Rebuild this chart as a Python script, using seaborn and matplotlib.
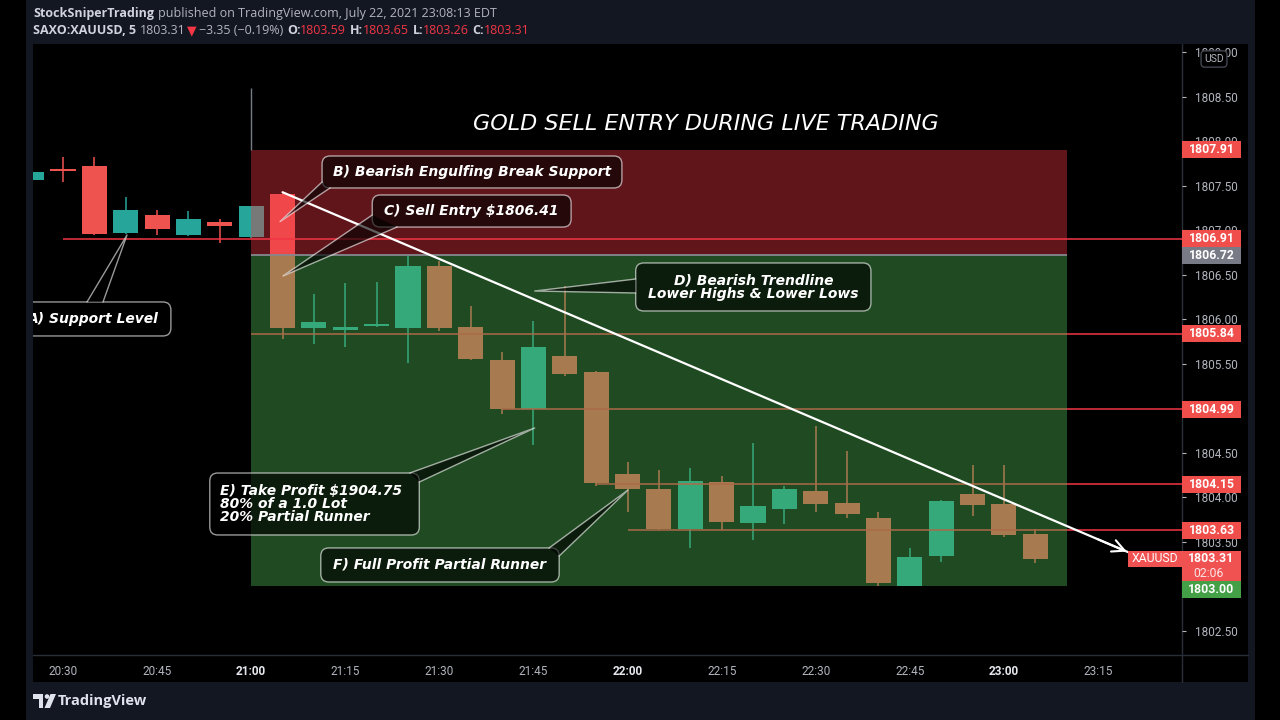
import matplotlib
matplotlib.use("Agg")
import matplotlib.pyplot as plt
import seaborn as sns
import numpy as np
import pandas as pd
from matplotlib.patches import Rectangle, FancyBboxPatch, Polygon, Circle
from matplotlib.lines import Line2D
from matplotlib.transforms import IdentityTransform, blended_transform_factory

# ---------------- data ----------------
times = ["20:25", "20:30", "20:35", "20:40", "20:45", "20:50", "20:55", "21:00",
         "21:05", "21:10", "21:15", "21:20", "21:25", "21:30", "21:35", "21:40",
         "21:45", "21:50", "21:55", "22:00", "22:05", "22:10", "22:15", "22:20",
         "22:25", "22:30", "22:35", "22:40", "22:45", "22:50", "22:55", "23:00", "23:05"]
opens = [1807.57, 1807.69, 1807.73, 1806.97, 1807.17, 1806.95, 1807.09, 1806.93,
         1807.41, 1805.90, 1805.88, 1805.93, 1805.91, 1806.60, 1805.92, 1805.54,
         1804.99, 1805.59, 1805.41, 1804.26, 1804.10, 1803.65, 1804.17, 1803.71,
         1803.87, 1804.07, 1803.94, 1803.77, 1803.01, 1803.34, 1804.04, 1803.93, 1803.59]
highs = [1807.70, 1807.83, 1807.83, 1807.38, 1807.23, 1807.22, 1807.13, 1807.28,
         1807.43, 1806.29, 1806.41, 1806.42, 1806.71, 1806.66, 1806.15, 1805.64,
         1805.98, 1806.38, 1805.42, 1804.40, 1804.31, 1804.33, 1804.24, 1804.61,
         1804.13, 1804.80, 1804.52, 1803.84, 1803.43, 1803.97, 1804.37, 1804.37, 1803.65]
lows = [1807.55, 1807.54, 1806.95, 1806.96, 1806.95, 1806.94, 1806.86, 1806.92,
        1805.78, 1805.72, 1805.69, 1805.92, 1805.51, 1805.87, 1805.54, 1804.94,
        1804.59, 1805.36, 1804.13, 1803.84, 1803.64, 1803.43, 1803.63, 1803.52,
        1803.70, 1803.84, 1803.77, 1803.01, 1803.00, 1803.27, 1803.79, 1803.56, 1803.26]
closes = [1807.66, 1807.67, 1806.96, 1807.23, 1807.02, 1807.13, 1807.05, 1807.28,
          1805.90, 1805.97, 1805.92, 1805.95, 1806.60, 1805.91, 1805.56, 1804.99,
          1805.69, 1805.39, 1804.16, 1804.10, 1803.65, 1804.19, 1803.72, 1803.90,
          1804.10, 1803.93, 1803.82, 1803.04, 1803.33, 1803.96, 1803.92, 1803.58, 1803.31]

time_ticks = ["20:30", "20:45", "21:00", "21:15", "21:30", "21:45",
              "22:00", "22:15", "22:30", "22:45", "23:00", "23:15"]
hour_ticks = ["21:00", "22:00", "23:00"]
price_ticks = [1802.5, 1803.0, 1803.5, 1804.0, 1804.5, 1805.0, 1805.5,
               1806.0, 1806.5, 1807.0, 1807.5, 1808.0, 1808.5, 1809.0]
hidden_ticks = [1803.0, 1805.0]   # fully covered by price tags in the reference

level_prices = [1806.91, 1805.84, 1804.99, 1804.15, 1803.63]
level_starts = ["20:30", "21:00", "21:40", "21:55", "22:00"]

zone_start, zone_end = "21:00", "23:10"
stop_price, entry_price, target_price = 1807.91, 1806.72, 1803.00
last_price, countdown = 1803.31, "02:06"

trend_times = ["21:05", "23:20"]
trend_prices = [1807.43, 1803.38]

title = "GOLD SELL ENTRY DURING LIVE TRADING"
publisher = "StockSniperTrading"
published = "published on TradingView.com, July 22, 2021 23:08:13 EDT"
symbol = "SAXO:XAUUSD, 5"
change = "−3.35 (−0.19%)"

# ---------------- helpers ----------------
def tmin(t):
    h, m = map(int, t.split(":"))
    return h * 60 + m - (20 * 60 + 30)

W, H = 1280, 720
sns.set_theme(style="dark")
plt.rcParams["font.family"] = ["Roboto", "DejaVu Sans"]

fig = plt.figure(figsize=(12.8, 7.2), dpi=100, facecolor="black")

# background frame (pixel axes)
bg = fig.add_axes([0, 0, 1, 1], zorder=-10)
bg.set_xlim(0, W); bg.set_ylim(H, 0); bg.axis("off")
bg.add_patch(Rectangle((26, 0), 1229, 720, fc="#131722", lw=0))
bg.add_patch(Rectangle((33, 44), 1215, 638, fc="black", lw=0))
bg.plot([1182, 1182], [44, 682], color="#2a2e39", lw=1)
bg.plot([33, 1248], [655, 655], color="#2a2e39", lw=1)
# TradingView logo
bg.add_patch(Rectangle((33, 694), 10, 4.5, fc="#e0e3eb", lw=0))
bg.add_patch(Rectangle((38.5, 694), 4.5, 14, fc="#e0e3eb", lw=0))
bg.add_patch(Circle((47, 696.5), 2.3, fc="#e0e3eb", lw=0))
bg.add_patch(Polygon([[50.5, 694], [56, 694], [50, 708], [44.5, 708]], fc="#e0e3eb", lw=0))

# main chart axes
L, R, T, B = 33, 1182, 44, 655
ax = fig.add_axes([L / W, (H - B) / H, (R - L) / W, (B - T) / H])
ax.set_facecolor("none")
for s in ax.spines.values():
    s.set_visible(False)
ax.grid(False)

ppm = 6.2727                      # pixels per minute
ppp = 89.0                        # pixels per price unit
xlo = (L - 63) / ppm
xhi = (R - 63) / ppm
ylo = 1808.5 - (B - 97) / ppp
yhi = 1808.5 + (97 - T) / ppp
ax.set_xlim(xlo, xhi)
ax.set_ylim(ylo, yhi)

df = pd.DataFrame({"t": times, "o": opens, "h": highs, "l": lows, "c": closes})
df["x"] = df["t"].map(tmin)
df["up"] = df["c"] >= df["o"]
up_col, dn_col = "#26a69a", "#ef5350"
cols = np.where(df["up"], up_col, dn_col)

ax.vlines(df["x"], df["l"], df["h"], colors=cols, lw=1.1, zorder=2)
bottoms = np.minimum(df["o"], df["c"])
heights = np.maximum(np.abs(df["c"] - df["o"]), 0.012)
ax.bar(df["x"], heights, bottom=bottoms, width=4.0, color=cols, lw=0, zorder=3)

# level lines
ax.hlines(level_prices, [tmin(s) for s in level_starts], xhi,
          colors="#f23645", lw=1.1, zorder=4)

# short position zones (drawn over candles)
zx0, zx1 = tmin(zone_start), tmin(zone_end)
ax.add_patch(Rectangle((zx0, entry_price), zx1 - zx0, stop_price - entry_price,
                       fc="#f23645", alpha=0.40, lw=0, zorder=5))
ax.add_patch(Rectangle((zx0, target_price), zx1 - zx0, entry_price - target_price,
                       fc="#4caf50", alpha=0.43, lw=0, zorder=5))
ax.hlines(entry_price, zx0, zx1, colors="#85878f", lw=1.3, zorder=6)
ax.vlines(zx0, stop_price, 1808.6, colors="#787b86", lw=1, zorder=6)

# trendline
sns.lineplot(x=[tmin(t) for t in trend_times], y=trend_prices, ax=ax,
             color="white", lw=1.6, zorder=8)
x_a = [tmin(t) for t in trend_times]
ax.annotate("", xy=(x_a[1], trend_prices[1]),
            xytext=(x_a[1] - 0.04 * (x_a[1] - x_a[0]),
                    trend_prices[1] - 0.04 * (trend_prices[1] - trend_prices[0])),
            arrowprops=dict(arrowstyle="->", color="white", lw=1.5, mutation_scale=22),
            zorder=8, annotation_clip=False)

# axes ticks
ax.yaxis.tick_right()
ax.set_yticks(price_ticks)
ax.set_yticklabels(["" if v in hidden_ticks else f"{v:.2f}" for v in price_ticks])
ax.tick_params(axis="y", colors="#b2b5be", labelsize=8.5, length=3, width=0.8, pad=6, direction="out")
ax.set_xticks([tmin(t) for t in time_ticks])
ax.set_xticklabels(time_ticks)
ax.tick_params(axis="x", colors="#b2b5be", labelsize=8.5, length=3, width=0.8, pad=4, direction="out")
for lab in ax.get_xticklabels():
    if lab.get_text() in hour_ticks:
        lab.set_color("#e6e8ee"); lab.set_fontweight("bold")

# price tags on the axis
px2p = (yhi - ylo) / (B - T)
tagw = 59 / (R - L)
TB = blended_transform_factory(ax.transAxes, ax.transData)
red_tag, gray_tag, green_tag = "#f04e4a", "#787b86", "#43a047"

def tag(price, color, shift_px=0.0):
    yc = price - shift_px * px2p
    ax.add_patch(Rectangle((1.0, yc - 8.5 * px2p), tagw, 17 * px2p, transform=TB,
                           fc=color, lw=0, clip_on=False, zorder=20))
    ax.text(1.0 + tagw / 2, yc, f"{price:.2f}", transform=TB, ha="center", va="center",
            color="white", fontsize=8.8, fontweight="bold", clip_on=False, zorder=21)

tag(stop_price, red_tag)
for p in level_prices:
    tag(p, red_tag)
tag(entry_price, gray_tag)
tag(target_price, green_tag, shift_px=3.5)

# current price label
lx0 = (1128 - L) / (R - L)
cur_col = "#f05252"
ax.add_patch(Rectangle((lx0, last_price - 8 * px2p), 1.0 - lx0, 16 * px2p, transform=TB,
                       fc=cur_col, lw=0, clip_on=False, zorder=20))
ax.add_patch(Rectangle((1.0, last_price - 22 * px2p), tagw, 30 * px2p, transform=TB,
                       fc=cur_col, lw=0, clip_on=False, zorder=20))
ax.text((lx0 + 1.0) / 2, last_price, "XAUUSD", transform=TB, ha="center", va="center",
        color="white", fontsize=8.8, clip_on=False, zorder=21)
ax.text(1.0 + tagw / 2, last_price, f"{last_price:.2f}", transform=TB, ha="center", va="center",
        color="white", fontsize=8.8, fontweight="bold", clip_on=False, zorder=21)
ax.text(1.0 + 11 / (R - L), last_price - 14.5 * px2p, countdown, transform=TB, ha="left", va="center",
        color="#fde3e3", fontsize=8.8, clip_on=False, zorder=21)

ax.text(1.0 + 32 / (R - L), (B - 59) / (B - T), "USD", transform=ax.transAxes,
        ha="center", va="center", color="#b2b5be", fontsize=7.5, clip_on=False, zorder=22,
        bbox=dict(boxstyle="round,pad=0.3,rounding_size=0.35", fc="black", ec="#434651", lw=1))

# ---------------- callouts ----------------
D = ax.transData.transform
ID = IdentityTransform()
box_fc = (0, 0, 0, 0.62)
box_ec = (1, 1, 1, 0.6)
afont = dict(family="DejaVu Sans", fontweight="bold", fontstyle="italic", fontsize=10, color="white")

def callout(text, box, tip, bases, ha="center", linespacing=1.05):
    x0, x1, y0, y1 = box
    (dx0, dy0), (dx1, dy1) = D((x0, y0)), D((x1, y1))
    ax.add_patch(FancyBboxPatch((dx0, dy0), dx1 - dx0, dy1 - dy0,
                                boxstyle="round,pad=0,rounding_size=8", transform=ID,
                                fc=box_fc, ec=box_ec, lw=1, zorder=10))
    b1, b2, tp = D(bases[0]), D(bases[1]), D(tip)
    ax.add_patch(Polygon([b1, b2, tp], closed=True, transform=ID, fc=box_fc, lw=0, zorder=10))
    ax.add_line(Line2D([b1[0], tp[0], b2[0]], [b1[1], tp[1], b2[1]], transform=ID,
                       color=box_ec, lw=1, zorder=10.5))
    cy = (dy0 + dy1) / 2
    if ha == "center":
        cx = (dx0 + dx1) / 2
    else:
        cx = dx0 + 10
    ax.text(cx, cy, text, transform=ID, ha=ha, va="center", multialignment=ha,
            linespacing=linespacing, zorder=11, clip_on=True, **afont)

callout("B) Bearish Engulfing Break Support", (41.3, 89.1, 1807.478, 1807.837),
        (34.6, 1807.10), [(41.3, 1807.545), (42.56, 1807.478)])
callout("C) Sell Entry $1806.41", (49.3, 81.0, 1807.039, 1807.399),
        (35.07, 1806.489), [(49.3, 1807.174), (53.25, 1807.039)])
callout("D) Bearish Trendline\nLower Highs & Lower Lows", (91.3, 128.8, 1806.096, 1806.635),
        (75.2, 1806.32), [(91.3, 1806.455), (91.3, 1806.298)], linespacing=0.95)
callout("E) Take Profit $1904.75\n80% of a 1.0 Lot\n20% Partial Runner", (23.4, 56.8, 1803.579, 1804.275),
        (75.2, 1804.781), [(55.3, 1804.275), (56.8, 1804.174)], ha="left", linespacing=0.9)
callout("F) Full Profit Partial Runner", (41.1, 79.1, 1803.051, 1803.433),
        (90.07, 1804.084), [(77.5, 1803.433), (79.1, 1803.343)])
callout("A) Support Level", (-7.65, 17.2, 1805.815, 1806.197),
        (10.2, 1806.949), [(3.83, 1806.197), (6.38, 1806.197)])

# ---------------- title / header / footer ----------------
fig.text(706 / W, 1 - 124 / H, title, ha="center", va="center", color="white",
         fontsize=16, fontstyle="italic", family="DejaVu Sans")

renderer = fig.canvas.get_renderer()
hfam = ["Open Sans", "DejaVu Sans"]

def seq(x, y, parts):
    for s, color, weight, gap in parts:
        x += gap
        t = fig.text(x / W, 1 - y / H, s, ha="left", va="center", color=color,
                     fontsize=9, fontweight=weight, family=hfam)
        x = t.get_window_extent(renderer).x1

hc, hb, hr = "#b2b5be", "#d1d4dc", "#f23645"
seq(33, 13, [(publisher, hb, "bold", 0), (published, hc, "normal", 3.5)])
seq(33, 31, [(symbol, hb, "bold", 0), (f"{closes[-1]:.2f}", hc, "normal", 3.5),
             ("▼", hr, "normal", 1.5), (change, hc, "normal", 2.5),
             ("O:", hb, "bold", 3.5), (f"{opens[-1]:.2f}", hr, "normal", 0),
             ("H:", hb, "bold", 3.5), (f"{highs[-1]:.2f}", hr, "normal", 0),
             ("L:", hb, "bold", 3.5), (f"{lows[-1]:.2f}", hr, "normal", 0),
             ("C:", hb, "bold", 3.5), (f"{closes[-1]:.2f}", hr, "normal", 0)])

fig.text(58 / W, 1 - 701 / H, "TradingView", ha="left", va="center", color="#e0e3eb",
         fontsize=10.5, fontweight="bold", family=hfam)

fig.savefig("out.png", dpi=100, facecolor="black")
